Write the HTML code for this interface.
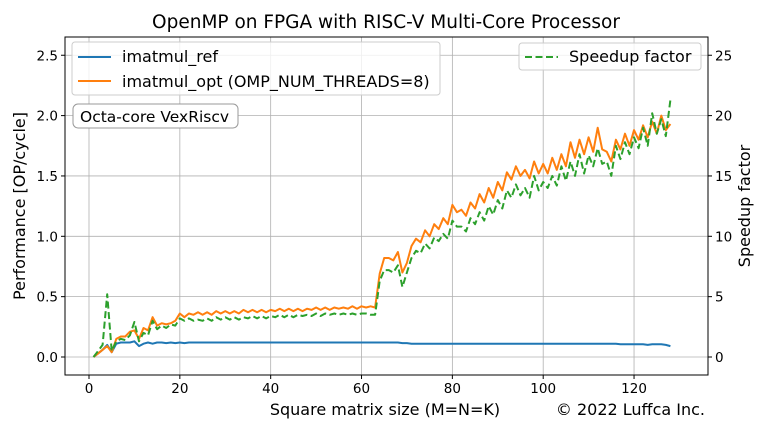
<!DOCTYPE html>
<html><head><meta charset="utf-8"><style>
body{margin:0;background:#fff;}
svg text{font-family:"DejaVu Sans","Liberation Sans",sans-serif;fill:#000;}
</style></head><body>
<svg id="c" width="768" height="432" viewBox="0 0 768 432">
<g id="grid"></g><g id="series"></g><g id="axes"></g>
</svg>
<script>
const xTicks=[0,20,40,60,80,100,120];
const yTicks=[0.0,0.5,1.0,1.5,2.0,2.5];
const y2Ticks=[0,5,10,15,20,25];
const refPerf=[0.00,0.03,0.06,0.10,0.04,0.11,0.12,0.12,0.12,0.13,
0.09,0.11,0.12,0.11,0.12,0.12,0.115,0.12,0.115,0.12,
0.115,0.12,0.12,0.12,0.12,0.12,0.12,0.12,0.12,0.12,
0.12,0.12,0.12,0.12,0.12,0.12,0.12,0.12,0.12,0.12,
0.12,0.12,0.12,0.12,0.12,0.12,0.12,0.12,0.12,0.12,
0.12,0.12,0.12,0.12,0.12,0.12,0.12,0.12,0.12,0.12,
0.12,0.12,0.12,0.12,0.12,0.12,0.12,0.12,0.115,0.115,
0.11,0.11,0.11,0.11,0.11,0.11,0.11,0.11,0.11,0.11,
0.11,0.11,0.11,0.11,0.11,0.11,0.11,0.11,0.11,0.11,
0.11,0.11,0.11,0.11,0.11,0.11,0.11,0.11,0.11,0.11,
0.11,0.11,0.11,0.11,0.11,0.11,0.11,0.11,0.11,0.11,
0.11,0.11,0.11,0.11,0.11,0.11,0.105,0.105,0.105,0.105,
0.105,0.105,0.10,0.105,0.105,0.105,0.10,0.09];
const optPerf=[0.00,0.03,0.06,0.09,0.04,0.15,0.17,0.17,0.21,0.22,
0.15,0.24,0.22,0.33,0.26,0.28,0.27,0.28,0.30,0.36,
0.33,0.36,0.35,0.37,0.35,0.37,0.35,0.38,0.36,0.38,
0.36,0.38,0.36,0.39,0.37,0.39,0.37,0.39,0.37,0.39,
0.38,0.40,0.38,0.40,0.38,0.40,0.38,0.40,0.39,0.41,
0.39,0.41,0.39,0.41,0.40,0.41,0.40,0.42,0.40,0.42,
0.41,0.42,0.41,0.69,0.82,0.82,0.80,0.87,0.70,0.78,
0.92,0.98,0.95,1.05,1.00,1.10,1.06,1.15,1.10,1.26,
1.20,1.22,1.17,1.28,1.23,1.35,1.28,1.40,1.32,1.45,
1.38,1.53,1.47,1.58,1.50,1.55,1.48,1.62,1.52,1.60,
1.52,1.65,1.55,1.68,1.58,1.78,1.65,1.80,1.68,1.82,
1.70,1.90,1.72,1.70,1.62,1.80,1.72,1.85,1.75,1.88,
1.80,1.92,1.82,1.95,1.85,2.00,1.88,1.93];
const speedup=[0.0,0.5,1.0,5.2,0.5,1.3,1.5,1.4,1.8,2.9,
1.3,2.0,1.8,3.0,2.3,2.6,2.4,2.7,2.6,3.2,
3.0,3.2,3.0,3.1,3.0,3.2,3.0,3.3,3.1,3.3,
3.1,3.3,3.1,3.3,3.2,3.4,3.2,3.4,3.2,3.4,
3.3,3.5,3.3,3.5,3.3,3.5,3.4,3.5,3.4,3.6,
3.4,3.6,3.5,3.6,3.5,3.6,3.5,3.6,3.5,3.6,
3.6,3.5,3.5,6.3,7.2,7.2,7.0,7.6,5.8,7.0,
8.2,8.8,8.6,9.4,9.0,9.9,9.6,10.2,9.8,11.3,
10.8,10.8,10.4,11.5,11.0,12.0,11.3,12.5,11.8,13.0,
12.3,13.8,13.2,14.3,13.4,14.0,13.2,15.0,13.8,14.5,
14.0,15.0,14.2,15.8,14.6,16.2,15.0,16.8,15.2,16.7,
15.8,17.3,16.0,16.2,15.0,17.5,16.4,17.8,16.8,18.2,
17.3,19.0,17.5,20.2,18.5,19.7,18.3,21.3];

const NS='http://www.w3.org/2000/svg';
const L=65,R=708,T=37,B=375;
const sx=n=>89+n*4.542;
const sy=v=>357-v*120.7;
const sy2=v=>357-v*12.07;
function mk(tag,attrs,parent,txt){const e=document.createElementNS(NS,tag);for(const k in attrs)e.setAttribute(k,attrs[k]);if(txt!==undefined)e.textContent=txt;parent.appendChild(e);return e;}
const grid=document.getElementById('grid'),ser=document.getElementById('series'),ax=document.getElementById('axes');
xTicks.forEach(t=>{const g=mk('line',{x1:sx(t),x2:sx(t),y1:T,y2:B,stroke:'#b0b0b0','stroke-width':0.8},grid);


mk('line',{x1:sx(t),x2:sx(t),y1:B,y2:B+4,stroke:'#000'},ax);
const tx=mk('text',{x:sx(t),y:B+18,'text-anchor':'middle','font-size':13.5},ax,String(t));

});
yTicks.forEach(t=>{const g=mk('line',{x1:L,x2:R,y1:sy(t),y2:sy(t),stroke:'#b0b0b0','stroke-width':0.8},grid);


mk('line',{x1:L-4,x2:L,y1:sy(t),y2:sy(t),stroke:'#000'},ax);
const tx=mk('text',{x:L-7,y:sy(t)+5,'text-anchor':'end','font-size':13.5},ax,t.toFixed(1));

});
y2Ticks.forEach(t=>{mk('line',{x1:R,x2:R+4,y1:sy2(t),y2:sy2(t),stroke:'#000'},ax);
const tx=mk('text',{x:R+7,y:sy2(t)+5,'font-size':13.5},ax,String(t));

});
function line(arr,fy,color,dash,name){const pts=arr.map((v,i)=>sx(i+1).toFixed(1)+','+fy(v).toFixed(1)).join(' ');
const p=mk('polyline',{points:pts,fill:'none',stroke:color,'stroke-width':2,'stroke-dasharray':dash||'none','stroke-linejoin':'round'},ser);

}
line(refPerf,sy,'#1f77b4',null,'imatmul-ref-line');
line(optPerf,sy,'#ff7f0e',null,'imatmul-opt-line');
line(speedup,sy2,'#2ca02c','7,3.5','speedup-line');
const fr=mk('rect',{x:L,y:T,width:R-L,height:B-T,fill:'none',stroke:'#000','stroke-width':1},ax);


</script>
<svg width="768" height="432" style="position:absolute;left:0;top:0">
<text x="386" y="28" text-anchor="middle" font-size="18.5">OpenMP on FPGA with RISC-V Multi-Core Processor</text>
<text x="385" y="415" text-anchor="middle" font-size="16">Square matrix size (M=N=K)</text>
<text x="705" y="415" text-anchor="end" font-size="16">© 2022 Luffca Inc.</text>
<text transform="translate(25,206) rotate(-90)" text-anchor="middle" font-size="16">Performance [OP/cycle]</text>
<text transform="translate(750,206) rotate(-90)" text-anchor="middle" font-size="16">Speedup factor</text>
<g>
<rect x="72" y="42" width="368" height="53" rx="3" fill="#fff" fill-opacity="0.8" stroke="#ccc"/>
<line x1="78" y1="57" x2="111" y2="57" stroke="#1f77b4" stroke-width="2"/>
<text x="122" y="62" font-size="16">imatmul_ref</text>
<line x1="78" y1="81" x2="111" y2="81" stroke="#ff7f0e" stroke-width="2"/>
<text x="122" y="87" font-size="16">imatmul_opt (OMP_NUM_THREADS=8)</text>
</g>
<g>
<rect x="519" y="43" width="182" height="27" rx="3" fill="#fff" fill-opacity="0.8" stroke="#ccc"/>
<line x1="525" y1="57" x2="558" y2="57" stroke="#2ca02c" stroke-width="2" stroke-dasharray="7,3.5"/>
<text x="569" y="62" font-size="16">Speedup factor</text>
</g>
<g>
<rect x="73" y="104" width="165" height="24" rx="5" fill="#fff" stroke="#999"/>
<text x="80" y="122" font-size="15.5">Octa-core VexRiscv</text>
</g>
</svg>
</body></html>
